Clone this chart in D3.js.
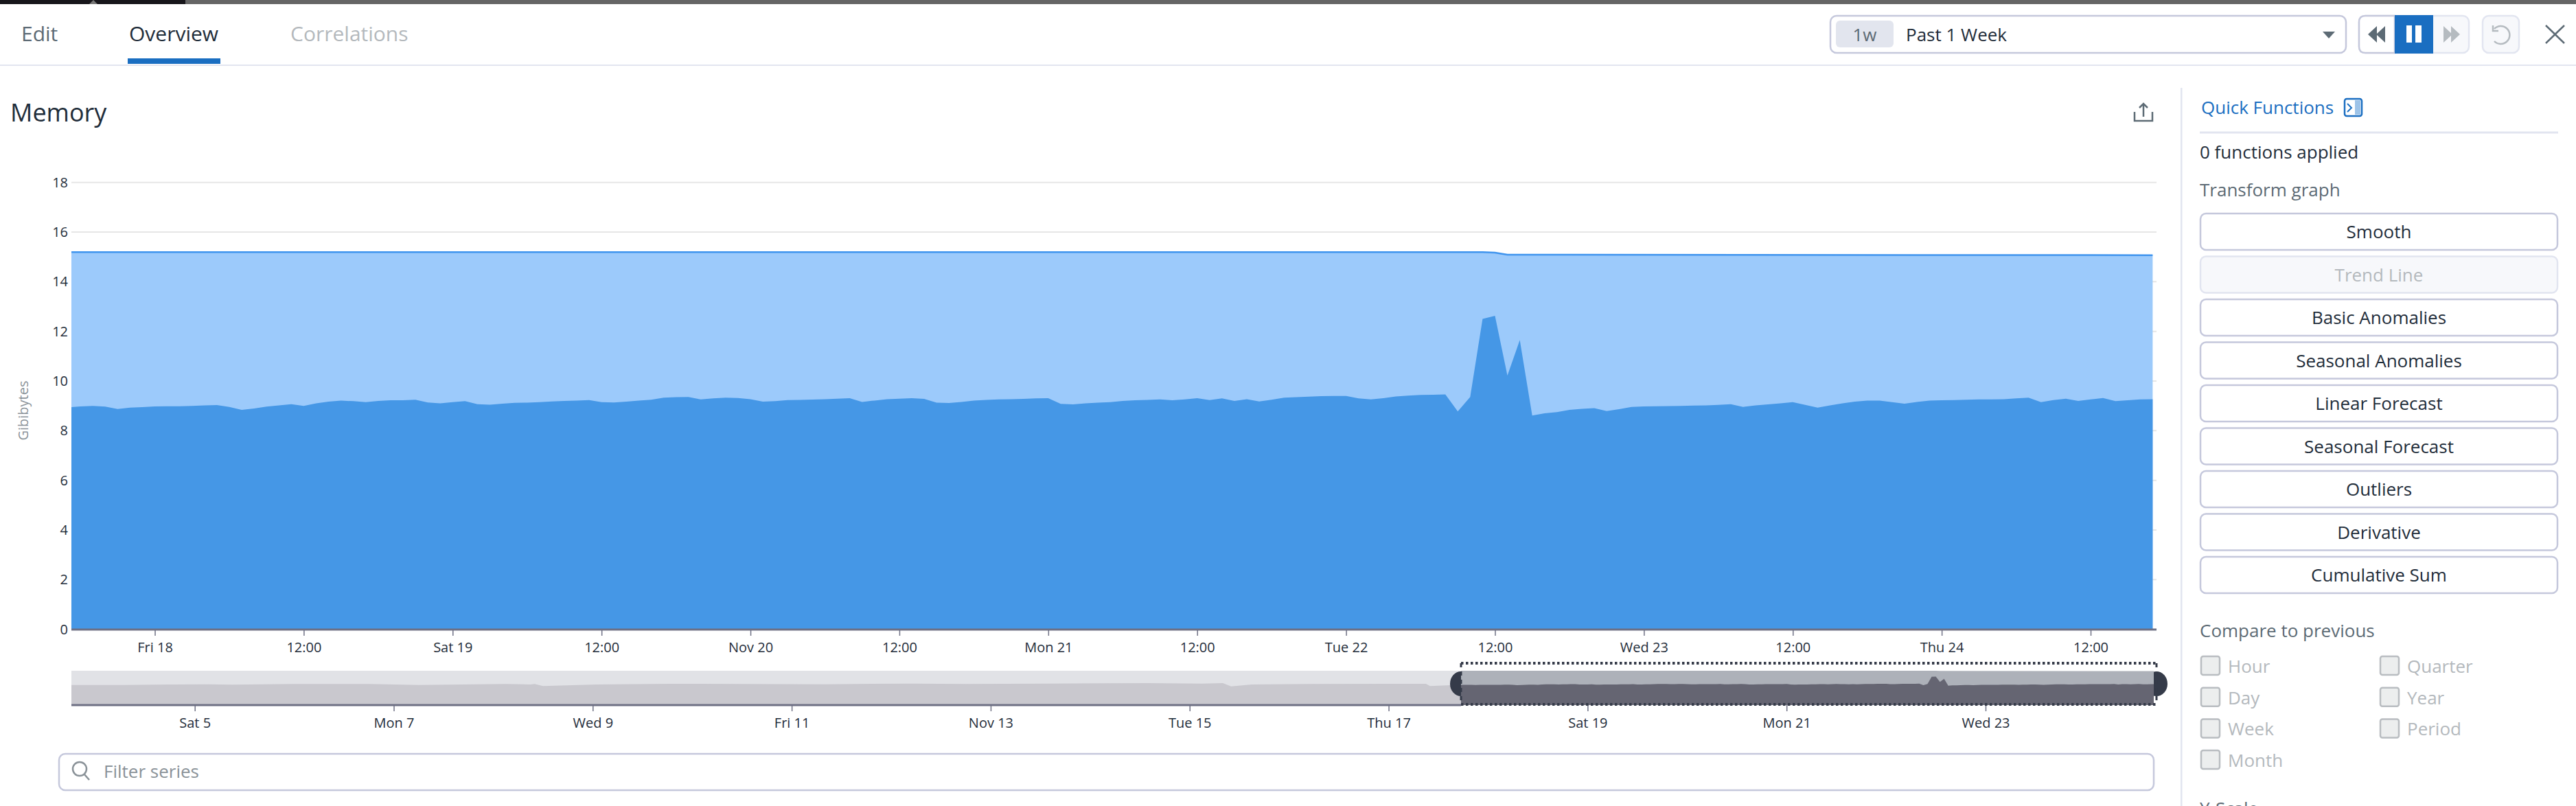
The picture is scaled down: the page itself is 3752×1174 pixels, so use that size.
<!DOCTYPE html>
<html>
<head>
<meta charset="utf-8">
<title>Memory</title>
<script src="https://cdn.jsdelivr.net/npm/d3@7/dist/d3.min.js"></script>
<style>
    html, body { margin: 0; padding: 0; background: #fff; overflow: hidden; }
    svg { display: block; }
    text { font-family: "Open Sans", sans-serif; }
</style>
</head>
<body>
<svg id="page" width="3752" height="1174"></svg>
<script>
// hourly memory used (GiB), first value is Nov 17 17:00, last is Nov 24 17:00
const usedValues = [
    8.94, 8.98, 9.00, 8.97, 8.875, 8.93, 8.95, 8.98, 8.985, 8.985, 9.00, 9.02, 9.03, 8.96, 8.84, 8.895, 8.97, 9.02, 9.07, 9.00,
    9.105, 9.17, 9.21, 9.19, 9.15, 9.20, 9.225, 9.23, 9.25, 9.14, 9.10, 9.15, 9.19, 9.07, 9.05, 9.09, 9.125, 9.13, 9.15, 9.18,
    9.20, 9.215, 9.235, 9.15, 9.14, 9.17, 9.21, 9.25, 9.33, 9.35, 9.355, 9.26, 9.30, 9.33, 9.32, 9.27, 9.17, 9.19, 9.235, 9.24,
    9.255, 9.27, 9.29, 9.31, 9.16, 9.215, 9.27, 9.29, 9.31, 9.28, 9.13, 9.115, 9.16, 9.21, 9.24, 9.26, 9.27, 9.28, 9.30, 9.31,
    9.08, 9.06, 9.10, 9.13, 9.15, 9.20, 9.225, 9.24, 9.26, 9.225, 9.26, 9.31, 9.235, 9.30, 9.20, 9.27, 9.18, 9.25, 9.33, 9.35,
    9.37, 9.39, 9.40, 9.40, 9.30, 9.26, 9.31, 9.38, 9.41, 9.44, 9.45, 9.465, 8.78, 9.36, 12.50, 12.63, 10.22, 11.65, 8.61, 8.70,
    8.75, 8.84, 8.88, 8.91, 8.79, 8.87, 8.96, 8.98, 8.985, 8.995, 9.00, 9.01, 9.02, 9.04, 9.07, 8.96, 9.02, 9.06, 9.105, 9.15,
    9.04, 8.93, 9.02, 9.10, 9.17, 9.21, 9.21, 9.15, 9.09, 9.16, 9.215, 9.225, 9.235, 9.25, 9.26, 9.26, 9.27, 9.30, 9.33, 9.15,
    9.235, 9.29, 9.20, 9.26, 9.32, 9.19, 9.225, 9.26, 9.27
];

// total memory only changes once, so it is kept as its corner points
const totalHours = [0, 114, 115, 116, 168];
const totalValues = [15.19, 15.19, 15.17, 15.09, 15.07];

// the two earlier weeks that only show in the range chart (hours from Nov 5 00:00)
const earlyHours = [-30, -17, -6, 3, 9, 24, 42, 54, 75, 81, 82, 84, 97, 115, 152, 173, 186, 218, 230, 243, 248, 250, 255, 269, 297, 298, 302];
const earlyValues = [8.92, 8.92, 9.12, 9.22, 9.02, 9.32, 9.32, 8.92, 9.32, 9.12, 9.32, 8.41, 9.12, 9.42, 9.22, 9.53, 9.32, 9.63, 9.73, 9.53, 9.73, 8.31, 9.12, 9.32, 9.42, 8.41, 8.72];
const earlyTotal = 15.19;

const yTicks = [0, 2, 4, 6, 8, 10, 12, 14, 16, 18];
const xTickTimes = ["2022-11-18T00:00Z", "2022-11-18T12:00Z", "2022-11-19T00:00Z", "2022-11-19T12:00Z", "2022-11-20T00:00Z",
    "2022-11-20T12:00Z", "2022-11-21T00:00Z", "2022-11-21T12:00Z", "2022-11-22T00:00Z", "2022-11-22T12:00Z",
    "2022-11-23T00:00Z", "2022-11-23T12:00Z", "2022-11-24T00:00Z", "2022-11-24T12:00Z"];
const xTickLabels = ["Fri 18", "12:00", "Sat 19", "12:00", "Nov 20", "12:00", "Mon 21", "12:00", "Tue 22", "12:00", "Wed 23", "12:00", "Thu 24", "12:00"];
const miniTickTimes = ["2022-11-05T00:00Z", "2022-11-07T00:00Z", "2022-11-09T00:00Z", "2022-11-11T00:00Z", "2022-11-13T00:00Z",
    "2022-11-15T00:00Z", "2022-11-17T00:00Z", "2022-11-19T00:00Z", "2022-11-21T00:00Z", "2022-11-23T00:00Z"];
const miniTickLabels = ["Sat 5", "Mon 7", "Wed 9", "Fri 11", "Nov 13", "Tue 15", "Thu 17", "Sat 19", "Mon 21", "Wed 23"];

const transformButtons = ["Smooth", "Trend Line", "Basic Anomalies", "Seasonal Anomalies", "Linear Forecast", "Seasonal Forecast", "Outliers", "Derivative", "Cumulative Sum"];
const compareLeft = ["Hour", "Day", "Week", "Month"];
const compareRight = ["Quarter", "Year", "Period"];

const INK = "#1f2d3a", GREY = "#5d6b75", FAINT = "#b4b9bd", RULE = "#e2e5f0", EDGE = "#c5c8dc", BLUE = "#1a6ec1", AXIS = "#6e7084";
const svg = d3.select("#page");

const hour = 3600000;
const weekStart = Date.UTC(2022, 10, 17, 17);
const earlyStart = Date.UTC(2022, 10, 5);
const usedData = usedValues.map((v, i) => ({ t: new Date(weekStart + i * hour), v: v }));
const totalData = totalHours.map((h, i) => ({ t: new Date(weekStart + h * hour), v: totalValues[i] }));
const earlyData = earlyHours.map((h, i) => ({ t: new Date(earlyStart + h * hour), v: earlyValues[i] }));

function addText(parent, x, y, str, size, color, anchor) {
    return parent.append("text").attr("x", x).attr("y", y).attr("font-size", size).attr("fill", color)
        .attr("text-anchor", anchor || "start").text(str);
}

function addBox(parent, x, y, w, h, fill, stroke, r) {
    return parent.append("rect").attr("x", x).attr("y", y).attr("width", w).attr("height", h).attr("rx", r)
        .attr("fill", fill).attr("stroke", stroke).attr("stroke-width", 2.5);
}

function drawHeader() {
    let g = svg.append("g");
    g.append("rect").attr("width", 3752).attr("height", 6).attr("fill", "#666");
    g.append("rect").attr("width", 270).attr("height", 6).attr("fill", "#17161b");
    g.append("path").attr("d", "M130,6L136,0L142,6Z").attr("fill", "#777");

    addText(g, 31, 60, "Edit", 30, GREY);
    addText(g, 188, 60, "Overview", 30, INK);
    addText(g, 423, 60, "Correlations", 30, FAINT);
    g.append("rect").attr("x", 186).attr("y", 85).attr("width", 135).attr("height", 8).attr("fill", BLUE);
    g.append("rect").attr("y", 94).attr("width", 3752).attr("height", 2).attr("fill", RULE);

    // time range select
    addBox(g, 2666, 23, 751, 54, "#fff", EDGE, 9);
    g.append("rect").attr("x", 2674).attr("y", 30).attr("width", 84).attr("height", 39).attr("rx", 6).attr("fill", "#e2e5ee");
    addText(g, 2716, 60, "1w", 26, GREY, "middle");
    addText(g, 2776, 60, "Past 1 Week", 26, INK);
    g.append("path").attr("d", "M3383,46H3401L3392,56Z").attr("fill", GREY);

    // player buttons
    addBox(g, 3436, 23, 160, 54, "#f7f8fb", RULE, 9);
    g.append("path").attr("d", "M3488,23H3445Q3436,23 3436,32V68Q3436,77 3445,77H3488Z").attr("fill", "#fff").attr("stroke", EDGE).attr("stroke-width", 2.5);
    g.append("rect").attr("x", 3488).attr("y", 22).attr("width", 56).attr("height", 56).attr("fill", BLUE);
    g.append("path").attr("d", "M3462,38L3449,50L3462,62ZM3474,38L3461,50L3474,62Z").attr("fill", GREY);
    g.append("path").attr("d", "M3505,37H3513V62H3505ZM3518,37H3527V62H3518Z").attr("fill", "#fff");
    g.append("path").attr("d", "M3559,38L3572,50L3559,62ZM3570,38L3583,50L3570,62Z").attr("fill", "#b5bbc0");

    addBox(g, 3616, 23, 53, 54, "#f7f8fb", RULE, 9);
    g.append("path").attr("d", "M3633,42A13,13 0 1 1 3633,60M3631,37V45H3639").attr("fill", "none").attr("stroke", "#b5bbc0").attr("stroke-width", 2.5);
    g.append("path").attr("d", "M3708,37L3735,63M3735,37L3708,63").attr("stroke", GREY).attr("stroke-width", 2.5);

    addText(g, 15, 177, "Memory", 36, INK);
    g.append("path").attr("d", "M3122,170V151M3116,157L3122,151L3128,157M3109,163V176H3135V163").attr("fill", "none").attr("stroke", GREY).attr("stroke-width", 2.5);
}

function drawMainChart() {
    let x = d3.scaleUtc().domain([new Date(weekStart), new Date(weekStart + 168 * hour)]).range([99, 3135.4]);
    let y = d3.scaleLinear().domain([0, 18]).range([916.7, 265.7]);

    svg.append("clipPath").attr("id", "mainClip").append("rect").attr("x", 104).attr("y", 200).attr("width", 3032).attr("height", 718);

    let grid = svg.append("g");
    grid.selectAll("line").data(yTicks).enter().append("line")
        .attr("x1", 104).attr("x2", 3141)
        .attr("y1", d => y(d)).attr("y2", d => y(d))
        .attr("stroke", "#e6e6e6").attr("stroke-width", 2);

    let totalArea = d3.area().x(d => x(d.t)).y0(y(0)).y1(d => y(d.v));
    let marks = svg.append("g").attr("clip-path", "url(#mainClip)");
    marks.append("path").datum(totalData).attr("d", totalArea).attr("fill", "#9ccafb");
    marks.append("path").datum(usedData).attr("d", totalArea).attr("fill", "#4597e6");
    marks.append("path").datum(totalData)
        .attr("d", d3.line().x(d => x(d.t)).y(d => y(d.v)))
        .attr("fill", "none").attr("stroke", "#3f94ee").attr("stroke-width", 2.5);

    let yAxis = svg.append("g").attr("transform", "translate(104,0)")
        .call(d3.axisLeft(y).tickValues(yTicks).tickSize(0).tickPadding(5));
    yAxis.select(".domain").remove();
    yAxis.selectAll("text").attr("font-size", 20).attr("font-family", "Open Sans").attr("fill", INK);

    drawTimeAxis(x, 917, xTickTimes, xTickLabels, 3141);

    let label = addText(svg, 0, 0, "Gibibytes", 20, "#8a9298", "middle");
    label.attr("transform", "translate(40.5,598) rotate(-90)");
}

function drawTimeAxis(x, yPos, times, labels, axisEnd) {
    let axis = svg.append("g").attr("transform", "translate(0," + yPos + ")")
        .call(d3.axisBottom(x)
            .tickValues(times.map(d => new Date(d)))
            .tickFormat((d, i) => labels[i])
            .tickSize(9).tickPadding(10));
    axis.select(".domain").remove();
    axis.selectAll("line").attr("stroke", AXIS).attr("stroke-width", 1.5);
    axis.selectAll("text").attr("font-size", 20).attr("font-family", "Open Sans").attr("fill", INK);
    svg.append("line").attr("x1", 104).attr("x2", axisEnd).attr("y1", yPos).attr("y2", yPos)
        .attr("stroke", AXIS).attr("stroke-width", 3);
}

function drawRangeChart() {
    let x = d3.scaleUtc().domain([new Date(earlyStart), new Date(earlyStart + 432 * hour)]).range([283.7, 2892]);
    let y = d3.scaleLinear().domain([0, 15.19]).range([1027, 977]);
    let area = d3.area().x(d => x(d.t)).y0(y(0)).y1(d => y(d.v));
    let left = 2128, right = 3141;

    svg.append("clipPath").attr("id", "miniClip").append("rect").attr("x", 104).attr("y", 960).attr("width", 3033).attr("height", 67);
    svg.append("clipPath").attr("id", "selClip").append("rect").attr("x", left).attr("y", 960).attr("width", 1009).attr("height", 67);

    let allTotal = [{ t: earlyData[0].t, v: earlyTotal }].concat(totalData);
    let allUsed = earlyData.concat(usedData);

    let plain = svg.append("g").attr("clip-path", "url(#miniClip)");
    plain.append("path").datum(allTotal).attr("d", area).attr("fill", "#e1e2e6");
    plain.append("path").datum(allUsed).attr("d", area).attr("fill", "#c9c8ce");

    // handles sit under the selected part, only their outer halves show
    svg.selectAll("ellipse.handle").data([left, right]).enter().append("ellipse").attr("class", "handle")
        .attr("cx", d => d).attr("cy", 996).attr("rx", 16).attr("ry", 18).attr("fill", "#353b49");

    let picked = svg.append("g").attr("clip-path", "url(#selClip)");
    picked.append("rect").attr("x", left).attr("y", 977).attr("width", 1009).attr("height", 50).attr("fill", "#fff");
    picked.append("path").datum(allTotal).attr("d", area).attr("fill", "#adb1b9");
    picked.append("path").datum(allUsed).attr("d", area).attr("fill", "#656572");

    drawTimeAxis(x, 1027, miniTickTimes, miniTickLabels, left);

    // dotted box around the selected week
    let dots = svg.append("g").attr("fill", "none").attr("stroke", "#353b49");
    dots.append("path").attr("d", "M" + left + ",966H" + right + "M" + left + ",1026H" + right)
        .attr("stroke-width", 4).attr("stroke-dasharray", "3.5,3.5");
    dots.append("path").attr("d", "M" + left + ",966V1026M" + right + ",966V1026")
        .attr("stroke-width", 3).attr("stroke-dasharray", "6,6");
}

function drawFilter() {
    let g = svg.append("g");
    addBox(g, 86, 1098, 3051, 53, "#fff", EDGE, 9);
    g.append("circle").attr("cx", 116).attr("cy", 1120).attr("r", 10).attr("fill", "none").attr("stroke", "#8a9298").attr("stroke-width", 2.5);
    g.append("line").attr("x1", 123).attr("y1", 1128).attr("x2", 130).attr("y2", 1136).attr("stroke", "#8a9298").attr("stroke-width", 2.5);
    addText(g, 151, 1133, "Filter series", 26, "#8a9298");
}

function drawPanel() {
    let g = svg.append("g");
    g.append("rect").attr("x", 3176).attr("y", 128).attr("width", 2.5).attr("height", 1046).attr("fill", RULE);

    addText(g, 3206, 166, "Quick Functions", 26, BLUE);
    addBox(g, 3415, 144, 25, 25, "#fff", BLUE, 3);
    g.append("path").attr("d", "M3419,151L3425,157L3419,163").attr("fill", "none").attr("stroke", BLUE).attr("stroke-width", 2);
    g.append("rect").attr("x", 3430).attr("y", 146).attr("width", 8).attr("height", 21).attr("fill", "#9dc3e8");
    g.append("rect").attr("x", 3204).attr("y", 191.5).attr("width", 522).attr("height", 3).attr("fill", RULE);
    addText(g, 3204, 231, "0 functions applied", 26, INK);
    addText(g, 3204, 286, "Transform graph", 26, GREY);

    transformButtons.forEach((name, i) => {
        let top = 311 + 62.5 * i;
        let off = name === "Trend Line";
        addBox(g, 3205, top, 520, 53, off ? "#f7f8fb" : "#fff", off ? RULE : EDGE, 8);
        addText(g, 3465, top + 36, name, 26, off ? FAINT : INK, "middle");
    });

    addText(g, 3204, 928, "Compare to previous", 26, GREY);
    [[compareLeft, 3206, 3245], [compareRight, 3467, 3506]].forEach(col => {
        col[0].forEach((name, i) => {
            let top = 956 + 45.7 * i;
            addBox(g, col[1], top, 27, 27, "#eceeee", "#b9bdc1", 3);
            addText(g, col[2], top + 24, name, 26, FAINT);
        });
    });
    // cut off by the bottom of the window, same as the screenshot
    addText(g, 3204, 1187, "Y-Scale", 26, GREY);
}

drawHeader();
drawMainChart();
drawRangeChart();
drawFilter();
drawPanel();
</script>
</body>
</html>
